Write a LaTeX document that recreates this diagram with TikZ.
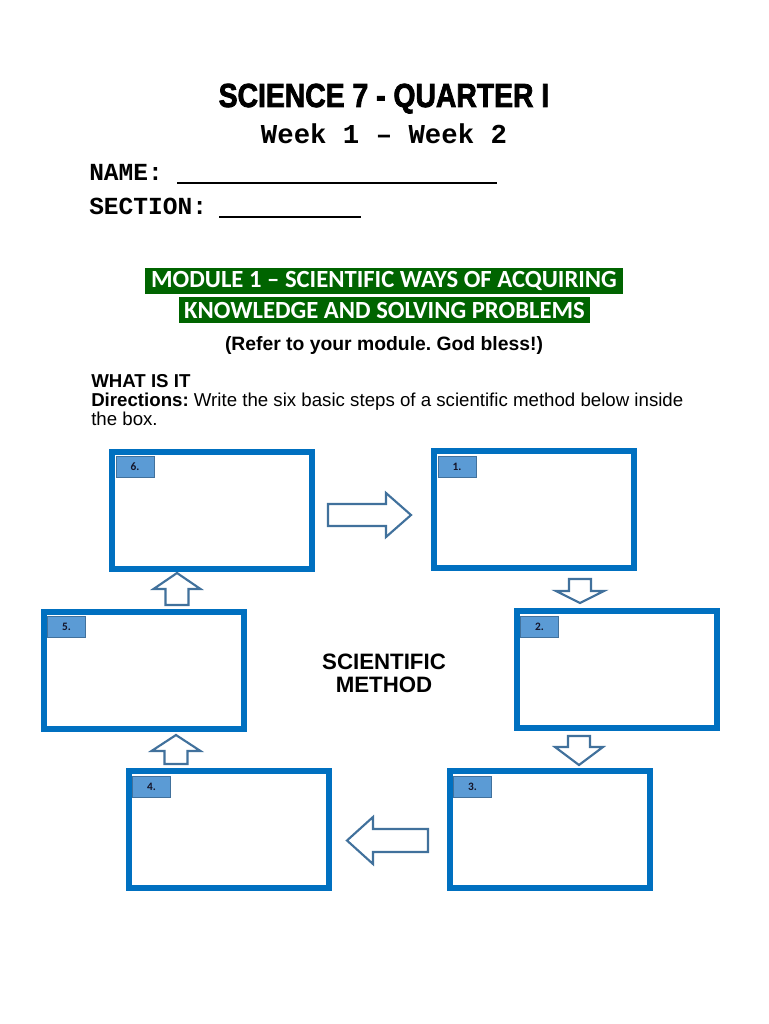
\documentclass[tikz,border=0pt]{standalone}
\usepackage{fontspec}
\setmainfont{Liberation Sans}
\newfontfamily\monofont{Liberation Mono}
\newfontfamily\calib{Carlito}
\newfontfamily\titlefont{Liberation Sans}[BoldFeatures={FakeBold=2.5}]
\usetikzlibrary{calc}
\definecolor{boxblue}{RGB}{0,112,192}
\definecolor{arrowblue}{RGB}{65,113,156}
\definecolor{tagfill}{RGB}{91,155,213}
\definecolor{bargreen}{RGB}{0,100,0}
\definecolor{tagtext}{RGB}{20,20,40}
\tikzset{
  stepbox/.style={draw=boxblue, line width=4.5pt, fill=white, minimum width=150pt, minimum height=87.75pt, outer sep=0pt, inner sep=0pt},
  tagbox/.style={draw=arrowblue, line width=0.75pt, fill=tagfill, minimum width=28.5pt, minimum height=15.75pt, inner sep=0pt, font=\calib\bfseries\fontsize{8.5}{9}\selectfont, text=tagtext},
  arrowline/.style={draw=arrowblue, line width=1.6pt, fill=white, line join=miter},
  greenbar/.style={fill=bargreen, text=white, inner sep=0pt, font=\calib\bfseries\fontsize{18.5}{20}\selectfont},
  uline/.style={line width=2.2pt, black},
  pics/barrow/.style n args={4}{code={
    \draw[arrowline] ({-#1/2},{-#3}) -- ({#1/2-#2},{-#3}) -- ({#1/2-#2},{-#4}) -- ({#1/2},0)
      -- ({#1/2-#2},{#4}) -- ({#1/2-#2},{#3}) -- ({-#1/2},{#3}) -- cycle;
  }}
}
\frenchspacing
\begin{document}
\begin{tikzpicture}[x=0.75pt,y=-0.75pt]
\useasboundingbox (0,0) rectangle (768,1024);
\fill[white] (0,0) rectangle (768,1024);

% header
\node[anchor=base, font=\titlefont\bfseries\fontsize{25}{28}\selectfont] (title) at (384,107) {\scalebox{0.85}[1]{SCIENCE 7 - QUARTER I}};
\node[anchor=base, font=\monofont\bfseries\fontsize{20.5}{24}\selectfont] (week) at (384,143) {Week 1 – Week 2};
\node[anchor=base west, inner sep=0pt, font=\monofont\bfseries\fontsize{18.4}{22}\selectfont] (name) at (89,180) {NAME:};
\node[anchor=base west, inner sep=0pt, font=\monofont\bfseries\fontsize{18.4}{22}\selectfont] (section) at (89,214) {SECTION:};
\coordinate (n1) at (177,183); \coordinate (n2) at (497,183);
\coordinate (s1) at (219,217); \coordinate (s2) at (361,217);
\draw[uline] (n1) -- (n2);
\draw[uline] (s1) -- (s2);

% green module title
\node[greenbar, minimum width=358.5pt, minimum height=19.5pt] (mod1) at (384,281) {MODULE 1 – SCIENTIFIC WAYS OF ACQUIRING};
\node[greenbar, minimum width=308.25pt, minimum height=19.5pt] (mod2) at (384.5,310) {KNOWLEDGE AND SOLVING PROBLEMS};
\node[anchor=base, font=\bfseries\fontsize{14.5}{17}\selectfont] (refer) at (384,350) {(Refer to your module. God bless!)};

\node[anchor=base west, inner sep=0pt, font=\bfseries\fontsize{14}{17}\selectfont] (what) at (91,387) {WHAT IS IT};
\node[anchor=base west, inner sep=0pt, font=\fontsize{14}{17}\selectfont] (dir) at (91,406) {\textbf{Directions:} Write the six basic steps of a scientific method below inside};
\node[anchor=base west, inner sep=0pt, font=\fontsize{14}{17}\selectfont] (dir2) at (91,425) {the box.};

% step boxes
\node[stepbox] (b6) at (212,510) {};
\node[stepbox] (b1) at (534,509.5) {};
\node[stepbox] (b5) at (143.5,670) {};
\node[stepbox] (b2) at (616.5,669.5) {};
\node[stepbox] (b4) at (228.5,829.5) {};
\node[stepbox] (b3) at (549.5,829.5) {};

\foreach \b/\t in {b6/6., b1/1., b5/5., b2/2., b4/4., b3/3.}{
  \node[tagbox] (tag\b) at ($(\b.north west)+(23,15.5)$) {\t};
}

\node[anchor=base, font=\bfseries\fontsize{16.7}{20}\selectfont, align=center] (sm1) at (384,669) {SCIENTIFIC};
\node[anchor=base, font=\bfseries\fontsize{16.7}{20}\selectfont, align=center] (sm2) at (384,692) {METHOD};

% block arrows
\pic at (369.5,515) {barrow={83}{25}{11}{22}};
\pic[rotate=-90] at (580,591) {barrow={24}{12}{11}{24}};
\pic[rotate=-90] at (579,750.5) {barrow={29}{18}{11}{24}};
\pic[rotate=180] at (387.5,840.5) {barrow={81}{26}{11.5}{23.5}};
\pic[rotate=90] at (176,749.5) {barrow={29}{16}{11.5}{24.5}};
\pic[rotate=90] at (177,589) {barrow={32}{16}{11.5}{23.5}};
\end{tikzpicture}
\end{document}
